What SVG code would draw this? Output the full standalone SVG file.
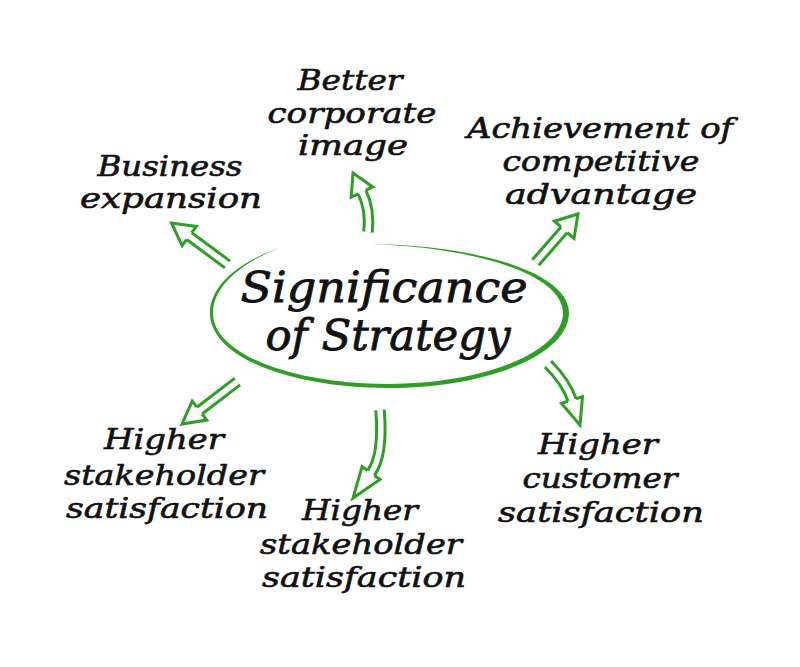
<svg xmlns="http://www.w3.org/2000/svg" width="800" height="667" viewBox="0 0 800 667">
<style>
  .t { font-family: "DejaVu Serif", "Liberation Serif", serif; font-style: italic; font-size: 27px; fill: #111; stroke: #111; stroke-width: 0.6; text-anchor: middle; }
  .c { font-size: 42px; stroke-width: 0.8; }
  .so { fill: none; stroke: #2f9e26; stroke-width: 11.5; }
  .si { fill: none; stroke: #ffffff; stroke-width: 5.5; }
  .hd { fill: #ffffff; stroke: #2f9e26; stroke-width: 3; stroke-linejoin: miter; }
</style>
<rect width="800" height="667" fill="#ffffff"/>

<g id="center">
  <path fill="#2f9e26" d="M282,247 C238,262 210,286 210,313 C210,357 290,388 388,388 C492,388 569,353 569,313 C569,271 472,245 370,244 C470,247 563,273 563,313 C563,350 488,384 388,384 C292,384 213,354 213,313 C213,287 240,263 282,247 Z"/>
  <text class="t c" x="384" y="302" textLength="287" lengthAdjust="spacingAndGlyphs">Significance</text>
  <text class="t c" x="388" y="350" textLength="245" lengthAdjust="spacingAndGlyphs">of Strategy</text>
</g>

<g id="connectors">
  <g id="arrow-business">
    <path class="so" d="M227.5,264.5 L189.2,236.1"/>
    <path class="si" d="M227.5,264.5 L189.2,236.1"/>
    <path class="hd" d="M191.7,232.7 L196.3,226.5 L171.5,223 L182.1,245.7 L186.7,239.5"/>
  </g>
  <g id="arrow-image">
    <path class="so" d="M368,232 Q370.6,210 362,192"/>
    <path class="si" d="M368,232 Q370.6,210 362,192"/>
    <path class="hd" d="M365.8,190.2 L372.8,186.9 L353,173 L351.2,197.1 L358.2,193.8"/>
  </g>
  <g id="arrow-advantage">
    <path class="so" d="M535.5,262.5 L564.2,229.8"/>
    <path class="si" d="M535.5,262.5 L564.2,229.8"/>
    <path class="hd" d="M567.4,232.6 L574,238.4 L578,214 L554.4,221.2 L561,227"/>
  </g>
  <g id="arrow-stakeholder-left">
    <path class="so" d="M237.5,381.5 L199.5,410.6"/>
    <path class="si" d="M237.5,381.5 L199.5,410.6"/>
    <path class="hd" d="M196.9,407.2 L192.2,401.1 L182,424 L206.8,420.1 L202.1,414"/>
  </g>
  <g id="arrow-stakeholder-mid">
    <path class="so" d="M380,410 Q383.8,455 371,473"/>
    <path class="si" d="M380,410 Q383.8,455 371,473"/>
    <path class="hd" d="M367.6,470.5 L362.1,466.6 L353,498 L379.9,479.4 L374.4,475.5"/>
  </g>
  <g id="arrow-customer">
    <path class="so" d="M548,364 Q566.5,382.8 572,400"/>
    <path class="si" d="M548,364 Q566.5,382.8 572,400"/>
    <path class="hd" d="M568,401.3 L561.5,403.4 L580,425 L582.5,396.6 L576,398.7"/>
  </g>
</g>

<g id="node-image">
  <text class="t" x="350" y="90" textLength="105" lengthAdjust="spacingAndGlyphs">Better</text>
  <text class="t" x="352" y="123" textLength="169" lengthAdjust="spacingAndGlyphs">corporate</text>
  <text class="t" x="353" y="155" textLength="110" lengthAdjust="spacingAndGlyphs">image</text>
</g>
<g id="node-business">
  <text class="t" x="170" y="176" textLength="145" lengthAdjust="spacingAndGlyphs">Business</text>
  <text class="t" x="171" y="208" textLength="182" lengthAdjust="spacingAndGlyphs">expansion</text>
</g>
<g id="node-advantage">
  <text class="t" x="600" y="138" textLength="266" lengthAdjust="spacingAndGlyphs">Achievement of</text>
  <text class="t" x="601" y="171" textLength="197" lengthAdjust="spacingAndGlyphs">competitive</text>
  <text class="t" x="601" y="204" textLength="192" lengthAdjust="spacingAndGlyphs">advantage</text>
</g>
<g id="node-stakeholder-left">
  <text class="t" x="164" y="449" textLength="120" lengthAdjust="spacingAndGlyphs">Higher</text>
  <text class="t" x="164" y="485" textLength="200" lengthAdjust="spacingAndGlyphs">stakeholder</text>
  <text class="t" x="167" y="518" textLength="202" lengthAdjust="spacingAndGlyphs">satisfaction</text>
</g>
<g id="node-stakeholder-mid">
  <text class="t" x="360" y="520" textLength="116" lengthAdjust="spacingAndGlyphs">Higher</text>
  <text class="t" x="361" y="554" textLength="202" lengthAdjust="spacingAndGlyphs">stakeholder</text>
  <text class="t" x="364" y="587" textLength="204" lengthAdjust="spacingAndGlyphs">satisfaction</text>
</g>
<g id="node-customer">
  <text class="t" x="598" y="454" textLength="120" lengthAdjust="spacingAndGlyphs">Higher</text>
  <text class="t" x="600" y="488" textLength="155" lengthAdjust="spacingAndGlyphs">customer</text>
  <text class="t" x="601" y="522" textLength="206" lengthAdjust="spacingAndGlyphs">satisfaction</text>
</g>
</svg>
